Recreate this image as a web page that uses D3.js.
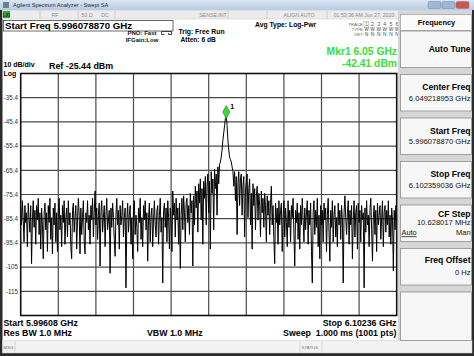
<!DOCTYPE html>
<html><head><meta charset="utf-8">
<script src="https://cdn.jsdelivr.net/npm/d3@7"></script>
<style>body{margin:0;background:#fff;overflow:hidden}svg{display:block;font-family:"Liberation Sans",Arial,sans-serif}</style>
</head><body><div id="chart"></div>
<script>
// ---------- data ----------
const startFreqGHz = 5.99608;
const stopFreqGHz = 6.10236;
const refLevelDbm = -25.44;
const dbPerDiv = 10;
const yTickLabels = ["-35.4","-45.4","-55.4","-65.4","-75.4","-85.4","-95.4","-105","-115"];
const markerIndex = 246;
const markerDbm = -42.41;
const traceDbm = [
-81,-88,-78,-86,-95,-80,-87,-83,-97,-79,
-85,-91,-80,-104,-86,-78,-89,-82,-96,-80,
-86,-77,-92,-83,-98,-81,-88,-102,-84,-79,
-90,-83,-99,-80,-87,-77,-94,-85,-100,-81,
-88,-79,-95,-83,-99,-82,-77,-90,-84,-97,
-80,-87,-78,-96,-85,-81,-93,-78,-88,-83,
-97,-102,-82,-79,-91,-85,-80,-98,-86,-77,
-84,-100,-81,-92,-85,-78,-95,-100,-83,-87,
-78,-90,-84,-96,-80,-86,-77,-93,-83,-74,
-88,-81,-94,-84,-79,-105,-83,-78,-91,-85,
-80,-97,-84,-77,-90,-86,-82,-108,-81,-89,
-79,-85,-94,-101,-84,-77,-88,-82,-98,-80,
-88,-84,-78,-93,-85,-81,-114,-86,-79,-91,
-84,-80,-96,-85,-102,-82,-78,-92,-84,-89,
-99,-81,-87,-77,-94,-85,-97,-80,-86,-78,
-90,-83,-103,-85,-79,-95,-84,-81,-97,-86,
-78,-88,-93,-82,-80,-96,-84,-77,-91,-85,
-112,-82,-79,-89,-81,-95,-78,-85,-98,-81,
-87,-99,-74,-84,-79,-93,-77,-86,-81,-96,
-79,-106,-84,-77,-90,-76,-83,-95,-79,-77,
-87,-80,-92,-75,-83,-78,-105,-76,-88,-72,
-81,-74,-91,-71,-79,-69,-86,-73,-96,-70,
-77,-68,-88,-72,-67,-83,-70,-98,-66,-75,
-69,-90,-65,-73,-67,-84,-64,-71,-63,-62,
-60,-57,-53,-50,-47,-44,-42.41,-47,-53,-57,
-60,-61,-62,-64,-66,-72,-66,-78,-68,-92,
-71,-66,-80,-69,-67,-84,-72,-68,-93,-74,
-70,-67,-85,-73,-69,-88,-75,-98,-71,-80,
-73,-90,-76,-72,-86,-75,-80,-93,-74,-83,
-77,-89,-75,-81,-95,-76,-84,-78,-92,-79,
-72,-88,-80,-94,-104,-79,-87,-81,-96,-78,
-88,-82,-79,-99,-85,-78,-93,-81,-87,-97,
-78,-89,-82,-95,-80,-85,-77,-92,-105,-82,
-87,-79,-94,-83,-98,-80,-88,-77,-86,-95,
-81,-90,-83,-78,-96,-82,-88,-79,-99,-112,
-83,-78,-92,-82,-89,-77,-97,-84,-102,-80,
-88,-82,-95,-79,-86,-81,-99,-84,-77,-91,
-103,-82,-89,-78,-95,-84,-80,-93,-85,-97,
-79,-88,-82,-94,-80,-86,-112,-83,-76,-85,
-92,-83,-78,-96,-82,-88,-80,-102,-86,-78,
-93,-83,-80,-98,-79,-87,-82,-95,-80,-86,
-83,-114,-81,-91,-78,-88,-84,-97,-82,-77,
-90,-103,-85,-80,-92,-82,-99,-79,-88,-84,
-80,-94,-85,-78,-97,-83,-80,-91,-82,-88,
-78,-93,-84,-96,-81,-86,-107,-82,-90,-80,
-86];
const titleText = "Agilent Spectrum Analyzer - Swept SA";
const statusCells = ["RF","50 Ω","DC","SENSE:INT","ALIGN AUTO","01:53:36 AM Jun 27, 2020"];
const softKeyTitles = ["Auto Tune","Center Freq","Start Freq","Stop Freq","CF Step","Freq Offset",""];
const softKeyValues = ["","6.049218953 GHz","5.996078870 GHz","6.102359036 GHz","10.628017 MHz","0 Hz",""];

// ---------- drawing ----------
(function(){
const W = 474, H = 356;
const svg = d3.select("#chart").append("svg").attr("width", W).attr("height", H);
svg.append("rect").attr("width", W).attr("height", H).attr("fill", "#ffffff");

// title bar
const tg = svg.append("defs").append("linearGradient").attr("id","tb").attr("x1",0).attr("x2",0).attr("y1",0).attr("y2",1);
tg.append("stop").attr("offset","0").attr("stop-color","#dbe6f3");
tg.append("stop").attr("offset","1").attr("stop-color","#b9cbe2");
svg.append("rect").attr("x",0).attr("y",0).attr("width",W).attr("height",10).attr("fill","url(#tb)");
svg.append("rect").attr("x",3).attr("y",2).attr("width",6).attr("height",6).attr("fill","#6a7f9a");
svg.append("text").attr("x",13).attr("y",7.3).attr("font-size",5.6).attr("fill","#1a2a3a").text(titleText);
[[428,"#9fb6d4"],[442,"#9fb6d4"],[456,"#d2534a"]].forEach(([bx,c])=>{
  svg.append("rect").attr("x",bx).attr("y",1.5).attr("width",13).attr("height",7).attr("rx",1.5).attr("fill",c).attr("stroke","#6f86a8").attr("stroke-width",0.5);
});

// dark frame
svg.append("rect").attr("x",0).attr("y",10).attr("width",2.5).attr("height",H-10).attr("fill","#2b2b2b");
svg.append("rect").attr("x",472).attr("y",10).attr("width",2).attr("height",H-10).attr("fill","#2b2b2b");
svg.append("rect").attr("x",0).attr("y",353).attr("width",W).attr("height",3).attr("fill","#2b2b2b");

// status row
svg.append("rect").attr("x",2.5).attr("y",10.5).attr("width",397).attr("height",8.5).attr("fill","#ececec").attr("stroke","#c8c8c8").attr("stroke-width",0.5);
svg.append("rect").attr("x",3).attr("y",11).attr("width",7).attr("height",7).attr("fill","#3aa53a");
svg.append("text").attr("x",6.5).attr("y",16.7).attr("font-size",4.5).attr("text-anchor","middle").attr("fill","#0b300b").attr("font-weight","bold").text("LXI");
[40,78,115,228,267,327,400].forEach(lx=>{
  svg.append("line").attr("x1",lx).attr("x2",lx).attr("y1",11).attr("y2",19).attr("stroke","#bdbdbd").attr("stroke-width",0.6);
});
const statusX = [55,87,105,213,299,364];
statusCells.forEach((t,i)=>{
  svg.append("text").attr("x",statusX[i]).attr("y",16.8).attr("font-size",5.2).attr("text-anchor","middle").attr("fill","#8a8a8a").text(t);
});

// header area texts
svg.append("rect").attr("x",3.5).attr("y",20.5).attr("width",169.5).attr("height",10.5).attr("fill","#fff").attr("stroke","#444").attr("stroke-width",0.8);
svg.append("text").attr("x",5).attr("y",29.3).attr("font-size",9.7).attr("font-weight","bold").attr("fill","#000").text("Start Freq 5.996078870 GHz");
svg.append("text").attr("x",142).attr("y",35).attr("font-size",6).attr("text-anchor","middle").attr("fill","#111").attr("font-weight","bold").text("PNO: Fast");
svg.append("text").attr("x",142).attr("y",42.3).attr("font-size",6).attr("text-anchor","middle").attr("fill","#111").attr("font-weight","bold").text("IFGain:Low");
svg.append("path").attr("d","M161.5,31.5 h10 v3 h-3 v-1.5 M161.5,31.5 v3 h3").attr("fill","none").attr("stroke","#333").attr("stroke-width",0.9);
svg.append("text").attr("x",178.5).attr("y",34).attr("font-size",6.8).attr("font-weight","bold").attr("fill","#000").text("Trig: Free Run");
svg.append("text").attr("x",180.5).attr("y",41.5).attr("font-size",6.6).attr("font-weight","bold").attr("fill","#000").text("Atten: 6 dB");
svg.append("text").attr("x",255).attr("y",26.5).attr("font-size",6.8).attr("font-weight","bold").attr("fill","#000").text("Avg Type: Log-Pwr");
svg.append("text").attr("x",363).attr("y",26).attr("font-size",4.4).attr("text-anchor","end").attr("fill","#666").text("TRACE");
svg.append("text").attr("x",363).attr("y",31).attr("font-size",4.4).attr("text-anchor","end").attr("fill","#666").text("TYPE");
svg.append("text").attr("x",363).attr("y",36).attr("font-size",4.4).attr("text-anchor","end").attr("fill","#666").text("DET");
svg.append("rect").attr("x",364).attr("y",21.5).attr("width",4.5).attr("height",5.5).attr("fill","none").attr("stroke","#888").attr("stroke-width",0.4);
["1","2","3","4","5","6"].forEach((t,i)=>{
  svg.append("text").attr("x",366.5+i*6.1).attr("y",26.3).attr("font-size",5.4).attr("text-anchor","middle").attr("fill", i===0?"#2e9a2e":"#555").text(t);
  svg.append("text").attr("x",366.5+i*6.1).attr("y",31.3).attr("font-size",4.8).attr("text-anchor","middle").attr("fill","#444").text("W");
  svg.append("text").attr("x",366.5+i*6.1).attr("y",36.3).attr("font-size",4.8).attr("text-anchor","middle").attr("fill","#444").text("N");
});
svg.append("text").attr("x",397).attr("y",55).attr("font-size",10.3).attr("font-weight","bold").attr("text-anchor","end").attr("fill","#36e036").text("Mkr1 6.05 GHz");
svg.append("text").attr("x",397).attr("y",66.9).attr("font-size",10.3).attr("font-weight","bold").attr("text-anchor","end").attr("fill","#36e036").text(markerDbm.toFixed(2) + " dBm");
svg.append("text").attr("x",3.5).attr("y",67.3).attr("font-size",7).attr("font-weight","bold").attr("fill","#000").text(dbPerDiv + " dB/div");
svg.append("text").attr("x",49).attr("y",69.2).attr("font-size",8.9).attr("font-weight","bold").attr("fill","#000").text("Ref " + refLevelDbm.toFixed(2) + " dBm");
svg.append("text").attr("x",3.5).attr("y",75.6).attr("font-size",7).attr("font-weight","bold").attr("fill","#000").text("Log");

// plot
const pL = 20.7, pR = 396.7, pT = 73.5, pB = 315.5;
const x = d3.scaleLinear().domain([startFreqGHz, stopFreqGHz]).range([pL, pR]);
const y = d3.scaleLinear().domain([refLevelDbm - 10*dbPerDiv, refLevelDbm]).range([pB, pT]);
const plot = svg.append("g");
plot.append("rect").attr("x",pL).attr("y",pT).attr("width",pR-pL).attr("height",pB-pT).attr("fill","#fff");
const span = stopFreqGHz - startFreqGHz;
const xGrid = d3.range(1,10).map(k => startFreqGHz + k*span/10);
const yGrid = d3.range(1,10).map(k => refLevelDbm - k*dbPerDiv);
plot.selectAll(".vg").data(xGrid).enter().append("line")
  .attr("x1",d=>x(d)).attr("x2",d=>x(d)).attr("y1",pT).attr("y2",pB)
  .attr("stroke","#4a4a4a").attr("stroke-width",1.2);
plot.selectAll(".hg").data(yGrid).enter().append("line")
  .attr("x1",pL).attr("x2",pR).attr("y1",d=>y(d)).attr("y2",d=>y(d))
  .attr("stroke","#4a4a4a").attr("stroke-width",1.2);
svg.selectAll(".yl").data(yGrid).enter().append("text")
  .attr("x",18).attr("y",d=>y(d)).attr("dy","0.35em").attr("text-anchor","end")
  .attr("font-size",6.3).attr("fill","#333").text((d,i)=>yTickLabels[i]);

const N = traceDbm.length;
const freqOf = i => startFreqGHz + i*span/(N-1);
const line = d3.line().x((d,i)=>x(freqOf(i))).y(d=>y(d));
plot.append("path").datum(traceDbm).attr("d",line).attr("fill","none")
  .attr("stroke","#000").attr("stroke-width",1).attr("stroke-linejoin","miter");
plot.append("rect").attr("x",pL).attr("y",pT).attr("width",pR-pL).attr("height",pB-pT)
  .attr("fill","none").attr("stroke","#111").attr("stroke-width",1.6);

// marker
const mx = x(freqOf(markerIndex)), my = y(markerDbm) - 2.5;
svg.append("path").attr("d",`M${mx},${my-6.5} L${mx+3.6},${my} L${mx},${my+6.5} L${mx-3.6},${my} Z`)
  .attr("fill","#3fd43f").attr("stroke","#1b8a1b").attr("stroke-width",0.6);
svg.append("text").attr("x",mx+4).attr("y",my-3.5).attr("font-size",7).attr("font-weight","bold").attr("fill","#000").text("1");

// bottom texts
svg.append("text").attr("x",3.5).attr("y",325.8).attr("font-size",8.8).attr("font-weight","bold").text("Start " + startFreqGHz.toFixed(5) + " GHz");
svg.append("text").attr("x",396.5).attr("y",325.8).attr("font-size",8.8).attr("font-weight","bold").attr("text-anchor","end").text("Stop " + stopFreqGHz.toFixed(5) + " GHz");
svg.append("text").attr("x",3.5).attr("y",335.8).attr("font-size",8.8).attr("font-weight","bold").text("Res BW 1.0 MHz");
svg.append("text").attr("x",147).attr("y",335.8).attr("font-size",8.8).attr("font-weight","bold").text("VBW 1.0 MHz");
svg.append("text").attr("x",396.5).attr("y",335.8).attr("font-size",8.8).attr("font-weight","bold").attr("text-anchor","end").attr("xml:space","preserve").text("Sweep  1.000 ms (1001 pts)");

// msg bar
svg.append("rect").attr("x",2.5).attr("y",340.5).attr("width",469.5).attr("height",12.5).attr("fill","#f2f2f2").attr("stroke","#cfcfcf").attr("stroke-width",0.5);
[15,300,322].forEach(lx=>svg.append("line").attr("x1",lx).attr("x2",lx).attr("y1",341).attr("y2",353).attr("stroke","#c8c8c8").attr("stroke-width",0.6));
svg.append("text").attr("x",3.5).attr("y",348.5).attr("font-size",4.4).attr("fill","#777").text("MSG");
svg.append("text").attr("x",301.5).attr("y",348.5).attr("font-size",4.4).attr("fill","#777").text("STATUS");

// right softkey panel
svg.append("rect").attr("x",398).attr("y",10).attr("width",74).attr("height",330.5).attr("fill","#d6d6d6");
svg.append("rect").attr("x",400.5).attr("y",14.5).attr("width",71).attr("height",16).attr("fill","#fbfbfb").attr("stroke","#9a9a9a").attr("stroke-width",0.7);
svg.append("text").attr("x",436.5).attr("y",22.5).attr("dy","0.35em").attr("font-size",7.4).attr("font-weight","bold").attr("text-anchor","middle").text("Frequency");
softKeyTitles.forEach((t,k)=>{
  const bt = 31 + k*43.5, bh = k===6 ? 48.5 : 36.5;
  svg.append("rect").attr("x",400.5).attr("y",bt).attr("width",71).attr("height",bh).attr("fill","#f7f7f7").attr("stroke","#8e8e8e").attr("stroke-width",0.8);
  if (!t) return;
  let ty, vy;
  if (k===0) { ty = bt+18; }
  else if (k===4) { ty = bt+8.5; vy = bt+17.5; }
  else if (k===5) { ty = bt+11.5; vy = bt+23.5; }
  else { ty = bt+12.5; vy = bt+23.5; }
  svg.append("text").attr("x",470.5).attr("y",ty).attr("dy","0.35em").attr("font-size",8.6).attr("font-weight","bold").attr("text-anchor","end").text(t);
  if (softKeyValues[k]) svg.append("text").attr("x",470.5).attr("y",vy).attr("dy","0.35em").attr("font-size",7.6).attr("text-anchor","end").attr("fill","#111").text(softKeyValues[k]);
  if (k===4) {
    svg.append("text").attr("x",401.5).attr("y",bt+27.8).attr("dy","0.35em").attr("font-size",7.4).attr("text-decoration","underline").attr("fill","#111").text("Auto");
    svg.append("text").attr("x",470.5).attr("y",bt+27.8).attr("dy","0.35em").attr("font-size",7.4).attr("text-anchor","end").attr("fill","#111").text("Man");
  }
});
})();
</script></body></html>
